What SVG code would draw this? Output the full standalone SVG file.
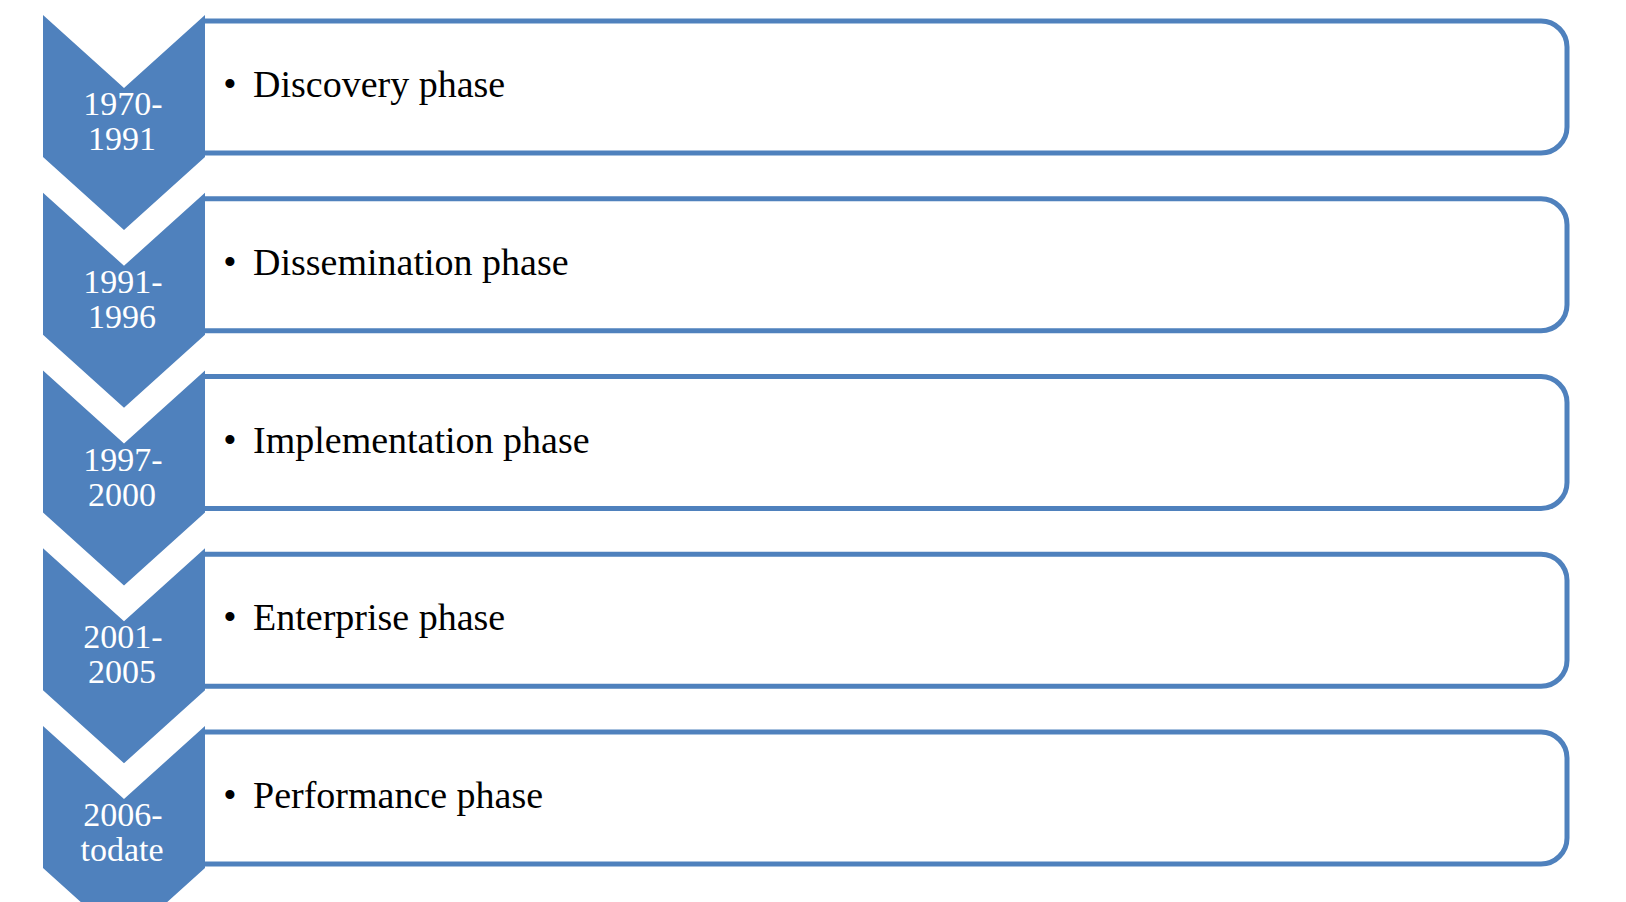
<svg xmlns="http://www.w3.org/2000/svg" width="1626" height="902" viewBox="0 0 1626 902">
<style>
.box{fill:#ffffff;stroke:#4f81bd;stroke-width:5}
.chev{fill:#4f81bd}
.yr{font-family:"Liberation Serif","Times New Roman",serif;font-size:34px;fill:#ffffff;text-anchor:middle}
.lbl{font-family:"Liberation Serif","Times New Roman",serif;font-size:38px;fill:#000000}
.bul{font-family:"Liberation Serif","Times New Roman",serif;font-size:38px;fill:#000000;text-anchor:middle}
</style>
<defs>
<path id="boxshape" class="box" d="M205,21 H1541 A26,26 0 0 1 1567,47 V127 A26,26 0 0 1 1541,153 H205"/>
<polygon id="chevshape" class="chev" points="43,15 124,88 205,15 205,157 124,230 43,157"/>
</defs>
<rect width="1626" height="902" fill="#ffffff"/>
<g id="connectors"></g>
<g id="row1">
<use href="#boxshape"/>
<use href="#chevshape"/>
<text class="yr" x="123" y="115">1970-</text>
<text class="yr" x="122" y="150">1991</text>
<text class="bul" x="230" y="97">•</text>
<text class="lbl" x="253" y="97">Discovery phase</text>
</g>
<g id="row2" transform="translate(0,177.75)">
<use href="#boxshape"/>
<use href="#chevshape"/>
<text class="yr" x="123" y="115">1991-</text>
<text class="yr" x="122" y="150">1996</text>
<text class="bul" x="230" y="97">•</text>
<text class="lbl" x="253" y="97">Dissemination phase</text>
</g>
<g id="row3" transform="translate(0,355.5)">
<use href="#boxshape"/>
<use href="#chevshape"/>
<text class="yr" x="123" y="115">1997-</text>
<text class="yr" x="122" y="150">2000</text>
<text class="bul" x="230" y="97">•</text>
<text class="lbl" x="253" y="97">Implementation phase</text>
</g>
<g id="row4" transform="translate(0,533.25)">
<use href="#boxshape"/>
<use href="#chevshape"/>
<text class="yr" x="123" y="115">2001-</text>
<text class="yr" x="122" y="150">2005</text>
<text class="bul" x="230" y="97">•</text>
<text class="lbl" x="253" y="97">Enterprise phase</text>
</g>
<g id="row5" transform="translate(0,711)">
<use href="#boxshape"/>
<use href="#chevshape"/>
<text class="yr" x="123" y="115">2006-</text>
<text class="yr" x="122" y="150">todate</text>
<text class="bul" x="230" y="97">•</text>
<text class="lbl" x="253" y="97">Performance phase</text>
</g>
</svg>
